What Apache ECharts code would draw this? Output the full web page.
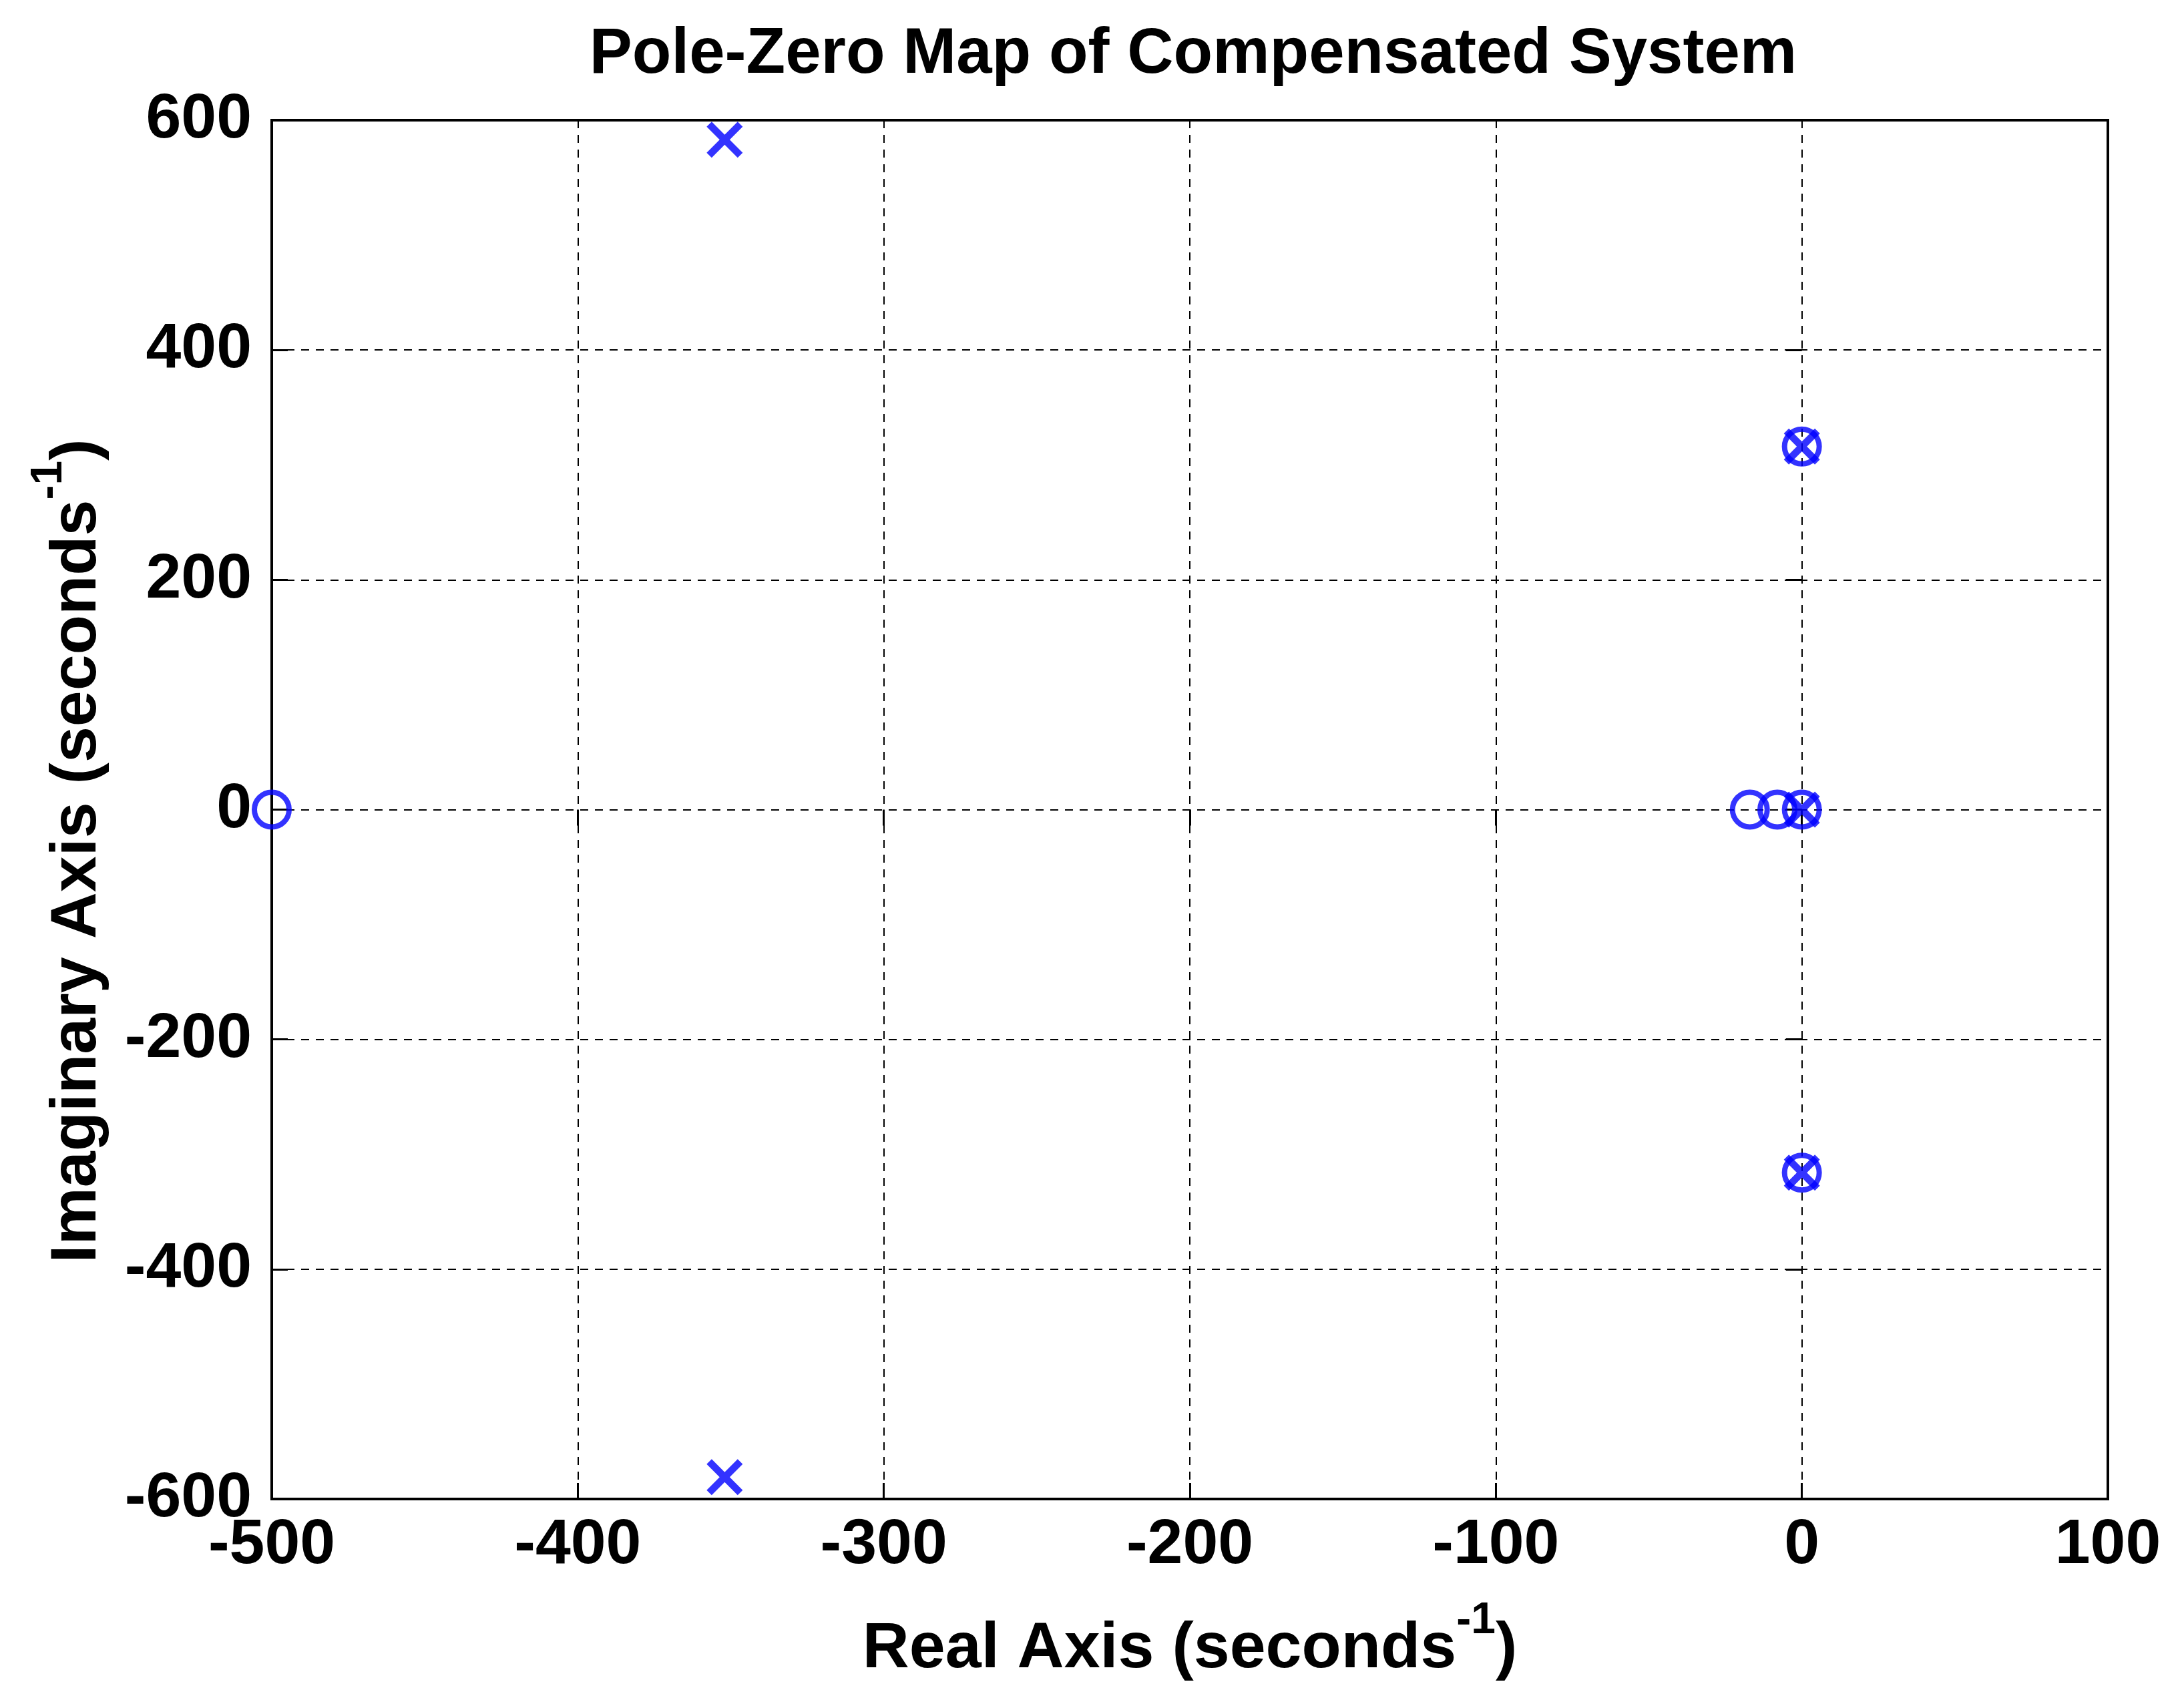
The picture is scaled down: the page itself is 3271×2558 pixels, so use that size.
<!DOCTYPE html>
<html>
<head>
<meta charset="utf-8">
<script src="https://cdn.jsdelivr.net/npm/echarts@6/dist/echarts.min.js"></script>
<style>
html,body{margin:0;padding:0;background:#fff;}
#c{width:3271px;height:2558px;}
</style>
</head>
<body>
<div id="c"></div>
<script>
const titleText = 'Pole-Zero Map of Compensated System';
const xTicks = [-500, -400, -300, -200, -100, 0, 100];
const yTicks = [-600, -400, -200, 0, 200, 400, 600];
const zerosRe = [-500, -17, -8, 0, 0, 0];
const zerosIm = [0, 0, 0, 0, 316, -316];
const polesRe = [-352, -352, 0, 0, 0];
const polesIm = [583, -581, 316, -316, 0];

const FONT = '"Liberation Sans", Arial, Helvetica, sans-serif';
const blue = '#0000ff';
const xPath = 'path://M14,0 L50,36 L86,0 L100,14 L64,50 L100,86 L86,100 L50,64 L14,100 L0,86 L36,50 L0,14 Z';

const zerosData = zerosRe.map((v, i) => [v, zerosIm[i]]);
const polesData = polesRe.map((v, i) => [v, polesIm[i]]);

const nameRich = {
  n: {fontSize: 97, fontWeight: 'bold', fontFamily: FONT, color: '#000', lineHeight: 150},
  s: {fontSize: 66, fontWeight: 'bold', fontFamily: FONT, color: '#000', lineHeight: 66, verticalAlign: 'top'}
};

const tickLabel = {fontSize: 95, fontWeight: 'bold', fontFamily: FONT, color: '#000'};
const grid = {left: 407, right: 114, top: 180, bottom: 313};

const chart = echarts.init(document.getElementById('c'), null, {renderer: 'canvas'});
chart.setOption({
  backgroundColor: '#fff',
  animation: false,
  title: {
    text: titleText,
    left: 1782,
    textAlign: 'center',
    top: 30,
    textStyle: {fontSize: 96, fontWeight: 'bold', fontFamily: FONT, color: '#000'}
  },
  grid: Object.assign({show: true, borderColor: '#000', borderWidth: 4, backgroundColor: 'transparent'}, grid),
  xAxis: [{
    type: 'value', min: xTicks[0], max: xTicks[xTicks.length - 1], interval: 100,
    name: '{n|Real Axis (seconds}{s|-1}{n|)}',
    nameLocation: 'middle', nameGap: 150,
    nameTextStyle: {rich: nameRich},
    axisLine: {show: true, onZero: false, lineStyle: {color: '#000', width: 4}},
    axisTick: {show: true, inside: true, length: 24, lineStyle: {color: '#000', width: 3}},
    axisLabel: Object.assign({margin: 22}, tickLabel),
    splitLine: {show: true, lineStyle: {color: '#000', width: 2, type: [12, 10]}}
  }, {
    type: 'value', position: 'top', min: xTicks[0], max: xTicks[xTicks.length - 1], interval: 100,
    axisLine: {show: false}, axisLabel: {show: false}, splitLine: {show: false},
    axisTick: {show: true, inside: true, length: 24, lineStyle: {color: '#000', width: 3}}
  }],
  yAxis: [{
    type: 'value', min: yTicks[0], max: yTicks[yTicks.length - 1], interval: 200,
    name: '{n|Imaginary Axis (seconds}{s|-1}{n|)}',
    nameLocation: 'middle', nameGap: 216, nameRotate: 90,
    nameTextStyle: {rich: nameRich, padding: [0, 124, 0, 0]},
    axisLine: {show: true, onZero: false, lineStyle: {color: '#000', width: 4}},
    axisTick: {show: true, inside: true, length: 24, lineStyle: {color: '#000', width: 3}},
    axisLabel: Object.assign({margin: 30}, tickLabel),
    splitLine: {show: true, lineStyle: {color: '#000', width: 2, type: [12, 10]}}
  }, {
    type: 'value', position: 'right', min: yTicks[0], max: yTicks[yTicks.length - 1], interval: 200,
    axisLine: {show: false}, axisLabel: {show: false}, splitLine: {show: false},
    axisTick: {show: true, inside: true, length: 24, lineStyle: {color: '#000', width: 3}}
  }],
  series: [
    {
      name: 'Zeros', type: 'scatter', data: zerosData,
      symbol: 'circle', symbolSize: 52,
      itemStyle: {color: 'rgba(0,0,0,0)', borderColor: blue, borderWidth: 8},
      z: 3
    },
    {
      name: 'Poles', type: 'scatter', data: polesData,
      symbol: xPath, symbolSize: 54,
      itemStyle: {color: blue},
      z: 4
    }
  ]
});
</script>
</body>
</html>
